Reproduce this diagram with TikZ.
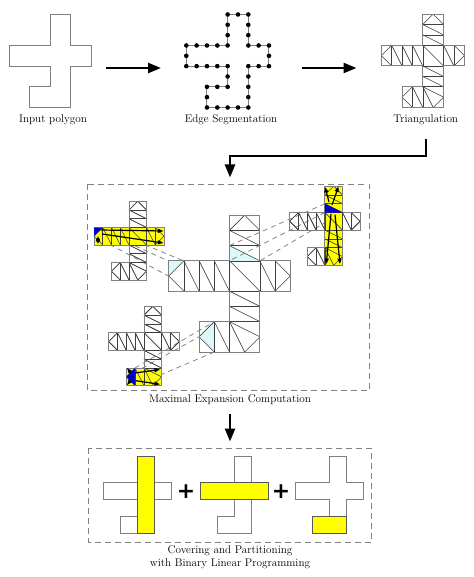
\documentclass[tikz,border=0pt]{standalone}
\usepackage{fontspec}
\newfontfamily\plusfont{DejaVu Sans}
\usetikzlibrary{arrows.meta}
\definecolor{edgegray}{gray}{0.5}
\definecolor{pale}{RGB}{220,248,250}
\definecolor{deepblue}{RGB}{0,0,205}
\definecolor{brightyellow}{RGB}{255,255,0}
\tikzset{
  x=1bp,y=-1bp,
  outline/.style={draw=edgegray,line width=1bp,line join=miter},
  inner/.style={draw=black!75,line width=0.6bp},
  flow/.style={line width=2.4bp,-{Triangle[length=13bp,width=10bp]}},
  ray/.style={line width=1.2bp,-{Triangle[length=5.5bp,width=4bp]}},
  frame/.style={draw=edgegray,line width=0.9bp,dash pattern=on 6bp off 4bp},
  guide/.style={draw=edgegray,line width=0.75bp,dash pattern=on 5bp off 4bp},
  lbl/.style={inner sep=0pt,align=center,font=\fontsize{11.2}{12.6}\selectfont},
  plussign/.style={inner sep=0pt,font=\fontsize{22}{22}\plusfont\bfseries},
  dot/.style={circle,fill=black,inner sep=0pt,minimum size=4.6bp},
}
% polygon in local units; #1 x0, #2 y0 (bottom), #3 unit
\newcommand{\setframe}[3]{\def\ox{#1}\def\oy{#2}\def\uu{#3}}
\newcommand{\Pt}[2]{({\ox+(#1)*\uu},{\oy-(#2)*\uu})}
\newcommand{\polypath}{\Pt{2}{4.5} -- \Pt{3}{4.5} -- \Pt{3}{3} -- \Pt{4}{3} -- \Pt{4}{2} -- \Pt{3}{2} -- \Pt{3}{0} -- \Pt{1}{0} -- \Pt{1}{1} -- \Pt{2}{1} -- \Pt{2}{2} -- \Pt{0}{2} -- \Pt{0}{3} -- \Pt{2}{3} -- cycle}
\newcommand{\triang}{%
  \foreach \a/\b/\c/\d in {2.5/4.5/2/4, 2.5/4.5/3/4, 2/4/3/4, 2/4/3/3.5, 2/3.5/3/3.5, 2/3.5/3/3,
    2/3/3/3, 2/3/3/2, 2/3/2/2, 3/3/3/2, 2/2/3/2,
    .5/3/0/2.5, 0/2.5/.5/2, .5/3/.5/2, .5/3/1/2, 1/3/1/2, 1/3/1.5/2, 1.5/3/1.5/2, 1.5/3/2/2,
    3/3/3.5/2, 3.5/3/3.5/2, 3.5/3/4/2.5, 4/2.5/3.5/2,
    2/2/3/1.5, 2/1.5/3/1.5, 2/1.5/3/1, 2/1/3/1,
    2/1/3/.5, 2/1/2.5/0, 2.5/0/3/.5, 2/1/2/0,
    1.5/1/2/0, 1.5/1/1.5/0, 1.5/1/1/.5, 1/.5/1.5/0}
    {\draw[inner] \Pt{\a}{\b} -- \Pt{\c}{\d};}%
  \draw[outline] \polypath;}
\newcommand{\yrectd}[4]{\filldraw[fill=brightyellow,draw=edgegray!70!black,line width=1bp] \Pt{#1}{#2} rectangle \Pt{#3}{#4};}
\begin{document}
\begin{tikzpicture}
\useasboundingbox (0,0) rectangle (474,577);
\fill[white] (0,0) rectangle (474,577);

% Row 1
\setframe{9}{107.5}{20.6}
\draw[outline] \polypath;
\node[lbl] (l1) at (53,120) {Input polygon};

\setframe{186.3}{107.5}{20.67}
\draw[outline] \polypath;
\foreach \a/\b in {2/4.5,2.5/4.5,3/4.5,2/4,2/3.5,2/3,3/4,3/3.5,3/3,3.5/3,4/3,4/2.5,4/2,3.5/2,3/2,3/1.5,3/1,3/.5,3/0,2.5/0,2/0,1.5/0,1/0,1/.5,1/1,1.5/1,2/1,2/1.5,2/2,1.5/2,1/2,.5/2,0/2,0/2.5,0/3,.5/3,1/3,1.5/3}
  {\node[dot] at \Pt{\a}{\b} {};}
\node[lbl] (l2) at (231,120) {Edge Segmentation};

\setframe{381.3}{107.5}{20.75}
\triang
\node[lbl] (l3) at (425.7,120) {Triangulation};

\coordinate (a1s) at (106,68); \coordinate (a1e) at (161,68);
\coordinate (a2s) at (301.7,68); \coordinate (a2e) at (356.5,68);
\draw[flow] (a1s) -- (a1e);
\draw[flow] (a2s) -- (a2e);
\coordinate (a3s) at (425.7,139); \coordinate (a3e) at (230,177.5);
\draw[flow] (a3s) |- (230,156) -- (a3e);

% Frame 2
\node[lbl] (l4) at (230,400) {Maximal Expansion Computation};
\coordinate (f1a) at (87.5,184); \coordinate (f1b) at (369.5,390.5);
\draw[frame] (f1a) rectangle (f1b);

% Big polygon pale triangles
\setframe{168.7}{352}{30.4}
\fill[pale] \Pt{2}{3.5} -- \Pt{3}{3} -- \Pt{2}{3} -- cycle;
\fill[pale] \Pt{0}{2.5} -- \Pt{0}{3} -- \Pt{.5}{3} -- cycle;
\fill[pale] \Pt{1.5}{1} -- \Pt{1}{.5} -- \Pt{1.5}{0} -- cycle;
\triang

% Small polygons under the guides
\setframe{94}{280}{17.5}
\triang
\setframe{289.7}{265.3}{17.6}
\triang
\setframe{108.7}{385.7}{17.65}
\triang

% Guides
\foreach \sx/\sy/\bx/\by in {
  103/227.5/184/261, 94/227.5/168.7/261, 94/236/168.7/276.2,
  325/203.7/229.5/245.6, 325/212.5/229.5/260.8, 342.5/212.5/259.9/260.8,
  135/368/214.3/321.6, 126.3/376.9/199.1/336.8, 135/385.7/214.3/352}
  {\draw[guide] (\sx,\sy) -- (\bx,\by);}

% Small top-left
\setframe{94}{280}{17.5}
\yrectd{0}{3}{4}{2}
\triang
\fill[deepblue] \Pt{0}{2.5} -- \Pt{0}{3} -- \Pt{.5}{3} -- cycle;
\draw[ray] (101,230) -- (163.5,231);
\draw[ray] (102,234) -- (163.5,243);
\draw[ray] (98,238) -- (98,244);
\draw[ray] (98,240) -- (98,236);

% Small top-right
\setframe{289.7}{265.3}{17.6}
\yrectd{2}{4.5}{3}{0}
\triang
\fill[deepblue] \Pt{2}{3.5} -- \Pt{3}{3} -- \Pt{2}{3} -- cycle;
\draw[ray] (329,202) -- (325,187);
\draw[ray] (332,205) -- (338.5,186.5);
\draw[ray] (331,214) -- (326.3,264);
\draw[ray] (335,214.7) -- (340,264);

% Small bottom-left
\setframe{108.7}{385.7}{17.65}
\yrectd{1}{1}{3}{0}
\triang
\fill[deepblue] \Pt{1.5}{1} -- \Pt{1}{.5} -- \Pt{1.5}{0} -- cycle;
\draw[ray] (135,373) -- (160,369.5);
\draw[ray] (135.7,380.7) -- (160,384.3);
\draw[ray] (131,373) -- (127,368);
\draw[ray] (131,380) -- (127,385);

% Frame 3
\coordinate (f2a) at (88.7,448.3); \coordinate (f2b) at (371.7,542);
\coordinate (a4s) at (230,414); \coordinate (a4e) at (230,441.5);
\draw[flow] (a4s) -- (a4e);
\draw[frame] (f2a) rectangle (f2b);

\setframe{103.3}{533.3}{17.05}
\draw[outline] \polypath;
\yrectd{2}{4.5}{3}{0}
\setframe{200.7}{533.3}{17.05}
\draw[outline] \polypath;
\yrectd{0}{3}{4}{2}
\setframe{295.3}{533.3}{17.05}
\draw[outline] \polypath;
\yrectd{1}{1}{3}{0}
\node[plussign] (p1) at (186,491.7) {+};
\node[plussign] (p2) at (281,491.7) {+};
\node[lbl] (l5) at (230,557) {Covering and Partitioning\\with Binary Linear Programming};
\end{tikzpicture}
\end{document}
